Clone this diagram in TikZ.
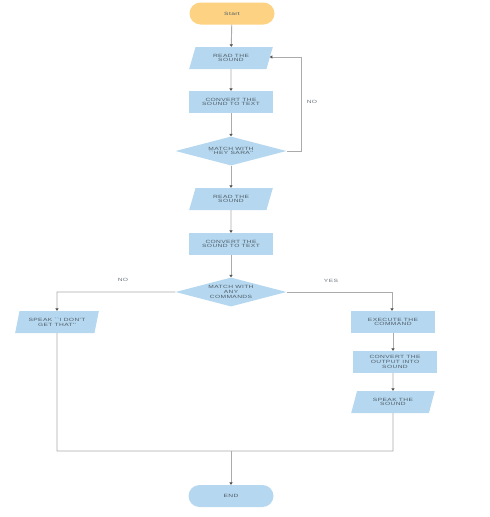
\documentclass[tikz,border=0pt]{standalone}
\usepackage{fontspec}
\setmainfont{Liberation Sans}
\newfontfamily\flowfont[FakeStretch=1.45,LetterSpace=8]{Liberation Sans}
\usetikzlibrary{shapes.geometric,arrows.meta}
\definecolor{boxblue}{HTML}{B5D8F0}
\definecolor{startorange}{HTML}{FDD383}
\definecolor{linegray}{HTML}{ABABAB}
\definecolor{tipgray}{HTML}{555555}
\definecolor{txtgray}{HTML}{4F5B66}
\tikzset{
  base/.style={inner sep=0pt, text=txtgray, align=center,
    font=\flowfont\fontsize{4.6}{4.8}\selectfont},
  terminal/.style={base, rounded rectangle, fill=boxblue, minimum width=85pt, minimum height=22pt},
  procbox/.style={base, rectangle, fill=boxblue, minimum width=84pt, minimum height=22pt},
  iobox/.style={base, trapezium, trapezium left angle=68, trapezium right angle=112,
    trapezium stretches=true, fill=boxblue, minimum width=84pt, minimum height=22pt},
  decision/.style={base, diamond, aspect=3.8, fill=boxblue, minimum width=111pt, minimum height=29pt},
  conn/.style={draw=linegray, line width=0.9pt},
  arr/.style={conn, -{Triangle[width=3.2pt,length=2.4pt,color=tipgray]}},
  lbl/.style={base, text=txtgray!85}
}
\usetikzlibrary{shapes.misc}
\begin{document}
\begin{tikzpicture}[x=1pt,y=-1pt]
\useasboundingbox (0,0) rectangle (490,517);
\node[terminal, fill=startorange] (start) at (232,13.5) {Start};
\node[iobox] (read1) at (231,58) {READ THE\\SOUND};
\node[procbox] (conv1) at (231,102) {CONVERT THE\\SOUND TO  TEXT};
\node[decision] (dec1) at (231,151) {MATCH WITH\\``HEY SARA''};
\node[iobox] (read2) at (231,199) {READ THE\\SOUND};
\node[procbox] (conv2) at (231,244) {CONVERT THE\\SOUND TO TEXT};
\node[decision] (dec2) at (231,292) {MATCH WITH\\ANY\\COMMANDS};
\node[iobox] (dont) at (57,322) {SPEAK ``I DON'T\\GET THAT''};
\node[procbox] (exec) at (393,322) {EXECUTE THE\\COMMAND};
\node[procbox] (convout) at (395,362) {CONVERT THE\\OUTPUT INTO\\SOUND};
\node[iobox] (speak) at (393,402) {SPEAK THE\\SOUND};
\node[terminal] (end) at (231,496) {END};

\coordinate (loopA) at (301,151);
\coordinate (loopB) at (301,57);
\coordinate (noL) at (57,292);
\coordinate (yesR) at (392,292);
\coordinate (mergeL) at (57,451);
\coordinate (mergeR) at (393,451);
\coordinate (mergeC) at (231,451);

\draw[arr] (start) -- (read1);
\draw[arr] (read1) -- (conv1);
\draw[arr] (conv1) -- (dec1);
\draw[arr] (dec1) -- (read2);
\draw[arr] (read2) -- (conv2);
\draw[arr] (conv2) -- (dec2);
\draw[arr] (dec1.east) -- (loopA) -- (loopB) -- (read1.east |- loopB);
\draw[arr] (dec2.west) -- (noL) -- (dont.north);
\draw[arr] (dec2.east) -- (yesR) -- (yesR |- exec.north);
\draw[arr] (exec) -- (exec |- convout.north);
\draw[arr] (exec |- convout.south) -- (speak);
\draw[conn] (dont.south) -- (mergeL) -- (mergeR) -- (speak.south);
\draw[arr] (mergeC) -- (end);

\node[lbl] (noA) at (312,102) {NO};
\node[lbl] (noB) at (123,280) {NO};
\node[lbl] (yes) at (331,281) {YES};
\end{tikzpicture}
\end{document}
